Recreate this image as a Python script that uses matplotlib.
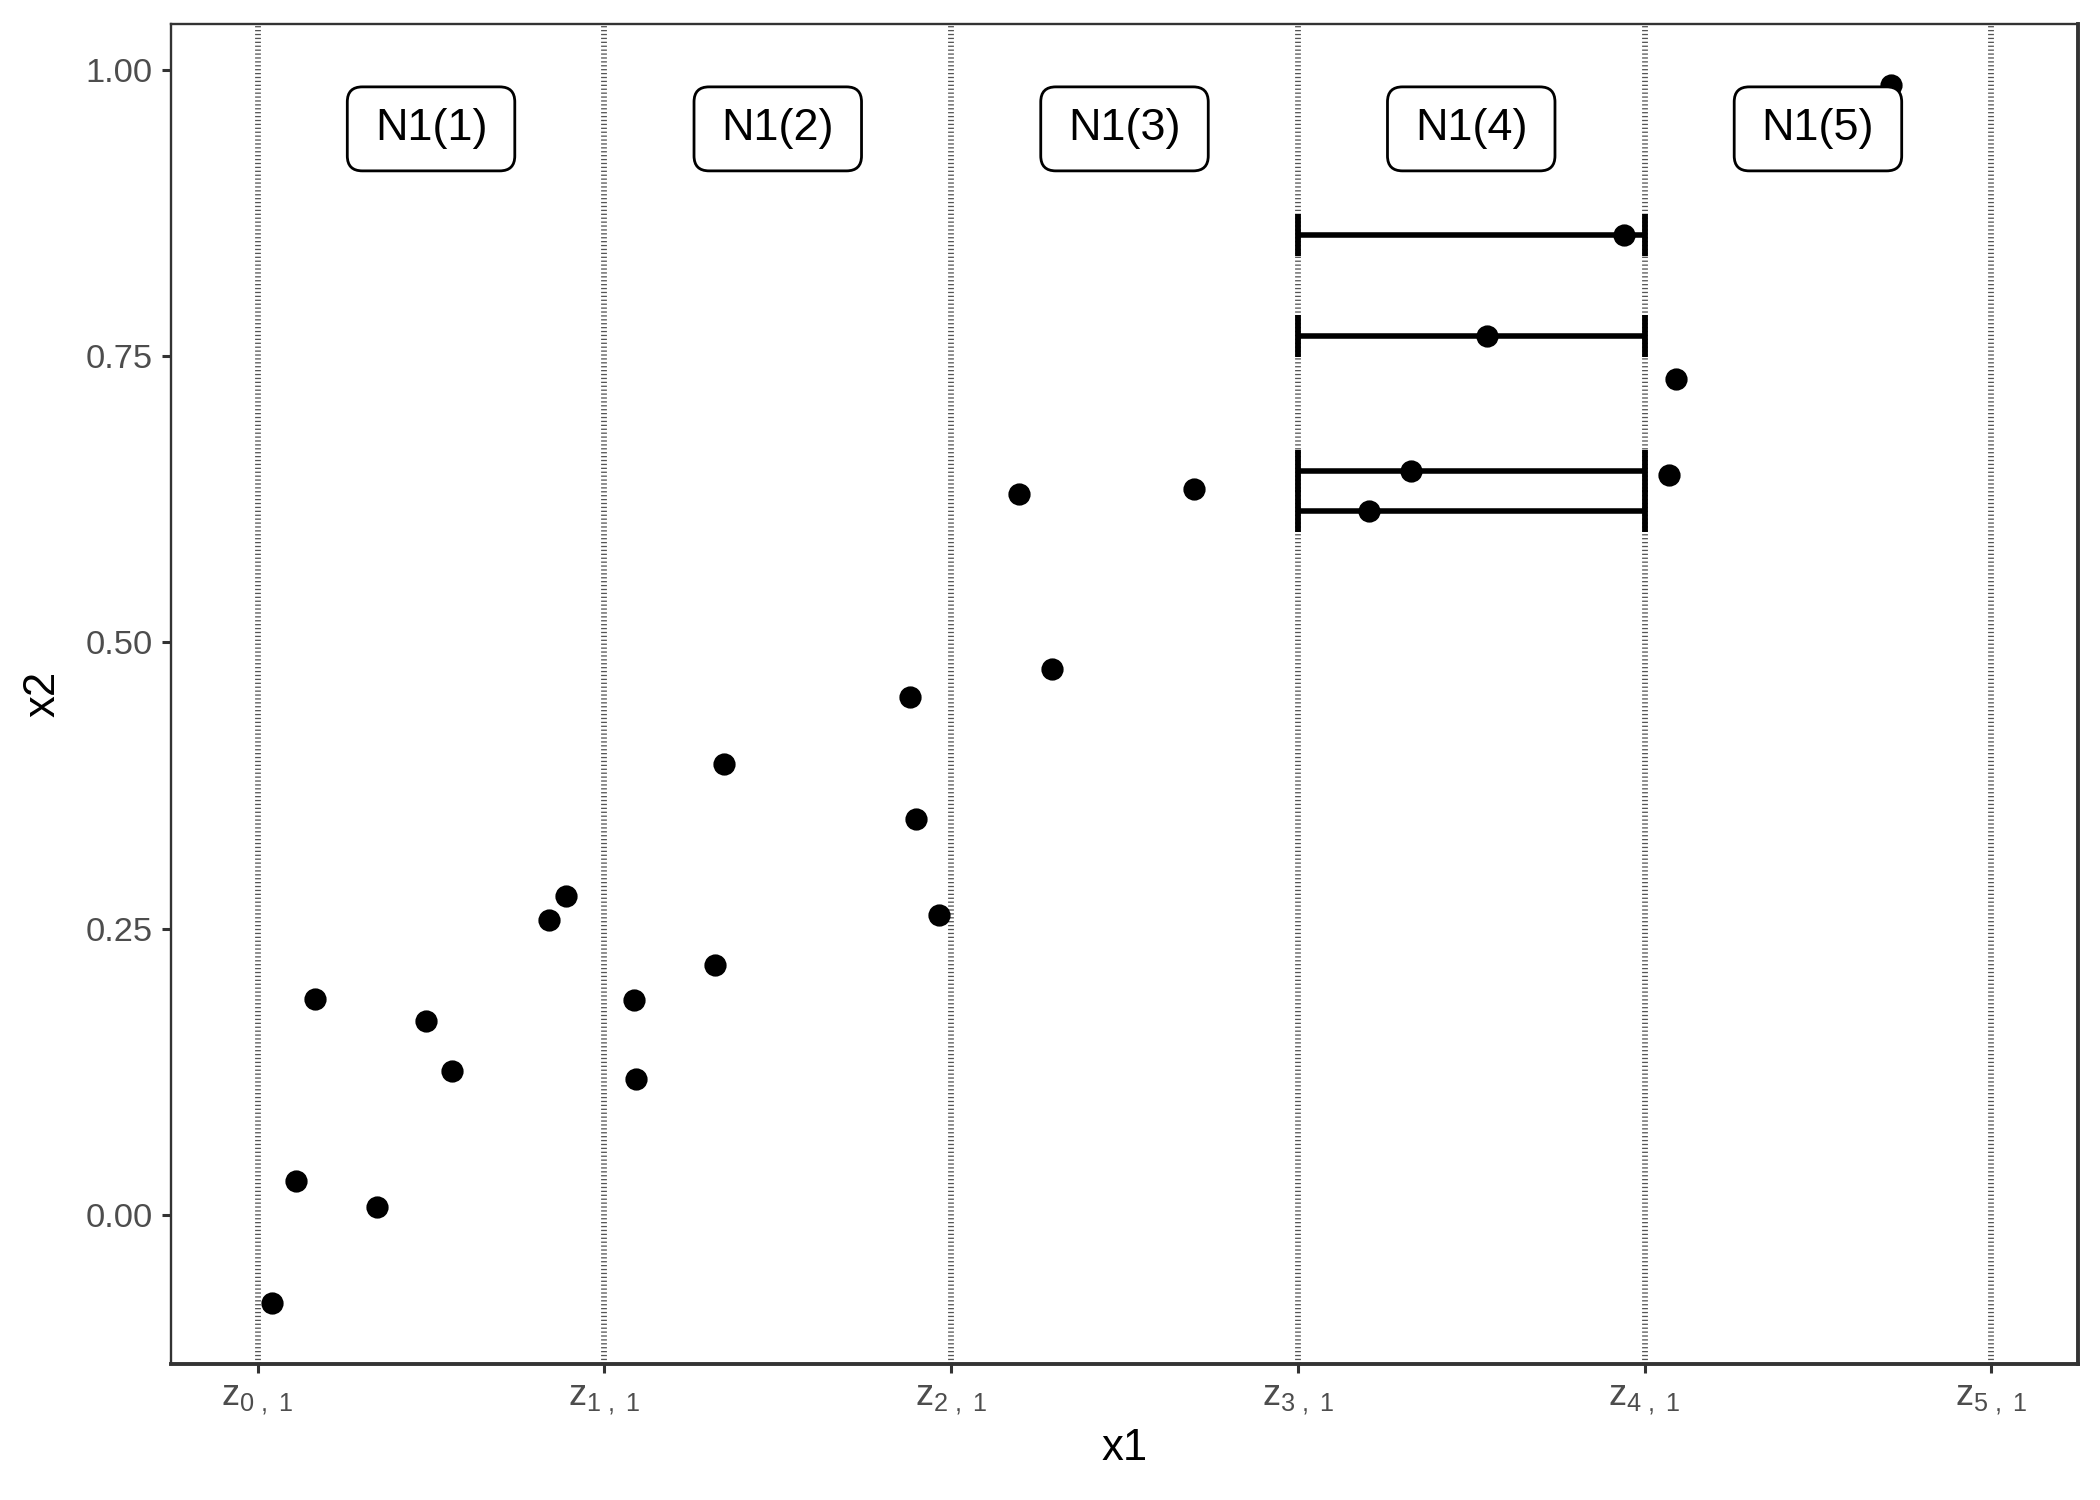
import numpy as np
import matplotlib
matplotlib.use('Agg')
import matplotlib.pyplot as plt
from matplotlib.patches import FancyBboxPatch
from matplotlib.transforms import IdentityTransform

plt.rcParams['font.family'] = ['Liberation Sans', 'DejaVu Sans']
plt.rcParams['mathtext.fontset'] = 'custom'
plt.rcParams['mathtext.rm'] = 'Liberation Sans'
plt.rcParams['mathtext.it'] = 'Liberation Sans'

# data
x1 = [0.008, 0.022, 0.033, 0.069, 0.097, 0.112, 0.168, 0.178, 0.217, 0.218,
      0.264, 0.269, 0.376, 0.380, 0.393, 0.439, 0.458, 0.540, 0.788, 0.709,
      0.665, 0.641, 0.818, 0.814, 0.942]
x2 = [-0.077, 0.030, 0.189, 0.007, 0.169, 0.126, 0.258, 0.279, 0.188, 0.119,
      0.218, 0.394, 0.452, 0.346, 0.262, 0.630, 0.477, 0.634, 0.856, 0.7675,
      0.6495, 0.6145, 0.730, 0.646, 0.987]
z_breaks = [0.0, 0.2, 0.4, 0.6, 0.8, 1.0]
z_labels = [r'$\mathrm{z}_{%d\ ,\ 1}$' % k for k in range(6)]
bin_labels = ['N1(1)', 'N1(2)', 'N1(3)', 'N1(4)', 'N1(5)']
highlight_bin = 3  # the N1(4) cell

x1 = np.array(x1)
x2 = np.array(x2)

fig = plt.figure(figsize=(10.5, 7.5), dpi=200)
ax = fig.add_axes([171/2100, 1-1364/1500, (2078-171)/2100, (1364-24)/1500])

# vertical dotted lines at the breaks
for z in z_breaks:
    ax.axvline(z, color='#555555', lw=2.1, dashes=(0.22, 0.45),
               solid_capstyle='butt', dash_capstyle='butt', zorder=1)

# error bars for the points in the highlighted cell
lo = z_breaks[highlight_bin]
hi = z_breaks[highlight_bin + 1]
sel = (x1 >= lo) & (x1 < hi)
ys = x2[sel]
ax.errorbar(np.full(len(ys), (lo + hi) / 2), ys, xerr=(hi - lo) / 2, fmt='none',
            ecolor='black', elinewidth=2.0, capsize=7.4, capthick=2.1, zorder=2)

ax.plot(x1, x2, 'o', color='black', markersize=7, zorder=3)

# cell labels
texts = []
for i, lab in enumerate(bin_labels):
    cx = (z_breaks[i] + z_breaks[i + 1]) / 2
    t = ax.text(cx, 0.9486, lab, ha='center', va='center', fontsize=16.2,
                color='black', zorder=6)
    texts.append(t)

xr = z_breaks[-1] - z_breaks[0]
ax.set_xlim(z_breaks[0] - 0.05 * xr, z_breaks[-1] + 0.05 * xr)
yr = x2.max() - x2.min()
ax.set_ylim(x2.min() - 0.05 * yr, x2.max() + 0.05 * yr)

ax.set_xticks(z_breaks)
ax.set_xticklabels(z_labels, fontsize=13)
ax.set_yticks([0.0, 0.25, 0.5, 0.75, 1.0])
ax.set_yticklabels(['0.00', '0.25', '0.50', '0.75', '1.00'], fontsize=12.4)
ax.tick_params(colors='#333333', labelcolor='#4d4d4d', length=3.3, width=1.1, pad=3.2)

ax.set_xlabel('x1', fontsize=15.7, labelpad=4)
ax.set_ylabel('x2', fontsize=15.7, labelpad=8)

for side in ['top', 'left']:
    ax.spines[side].set_linewidth(0.85)
    ax.spines[side].set_color('#333333')
for side in ['bottom', 'right']:
    ax.spines[side].set_linewidth(1.4)
    ax.spines[side].set_color('#333333')

# rounded boxes behind the labels, sized in pixels like geom_label
fig.canvas.draw()
renderer = fig.canvas.get_renderer()
for t in texts:
    bb = t.get_window_extent(renderer)
    w = bb.width + 55
    h = 84
    cx = (bb.x0 + bb.x1) / 2
    cy = (bb.y0 + bb.y1) / 2
    box = FancyBboxPatch((cx - w / 2, cy - h / 2), w, h,
                         boxstyle='round,pad=0,rounding_size=15',
                         transform=IdentityTransform(), facecolor='white',
                         edgecolor='black', lw=1.0, zorder=5)
    ax.add_patch(box)

fig.savefig('out.png', dpi=200)
